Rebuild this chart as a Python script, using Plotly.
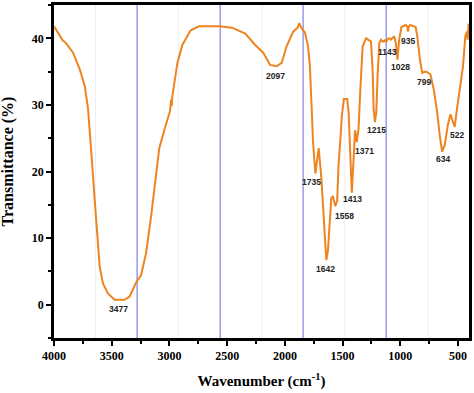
import plotly.graph_objects as go

# Spectrum (wavenumber cm^-1, transmittance %)
wavenumber = [4000, 3925, 3897, 3834, 3776, 3733, 3705, 3685, 3667, 3647, 3627, 3604,
              3576, 3533, 3475, 3389, 3346, 3284, 3246, 3203, 3160, 3123, 3088, 3040,
              2996, 2985, 2980, 2975, 2960, 2931, 2888, 2816, 2745, 2572, 2458, 2343,
              2257, 2186, 2128, 2071, 2028, 1985, 1928, 1890, 1875, 1865, 1842, 1827,
              1799, 1784, 1770, 1756, 1736, 1707, 1684, 1661, 1641, 1627, 1612, 1598,
              1584, 1564, 1547, 1535, 1517, 1506, 1489, 1460, 1448, 1437, 1420, 1406,
              1392, 1377, 1362, 1345, 1326, 1297, 1254, 1240, 1231, 1220, 1208, 1197,
              1182, 1168, 1150, 1134, 1125, 1110, 1096, 1082, 1065, 1053, 1039, 1025,
              1010, 990, 953, 940, 933, 925, 916, 867, 853, 830, 810, 790, 767, 739,
              710, 681, 658, 638, 615, 589, 566, 543, 529, 509, 486, 457, 437, 423,
              417, 408]
transmittance = [41.8, 39.7, 39.3, 37.8, 35.3, 32.8, 29.4, 25.4, 20.5, 15.6, 10.6, 5.7,
                 3.2, 1.7, 0.74, 0.74, 1.2, 3.5, 4.4, 7.7, 13.1, 18.5, 23.5, 26.5,
                 29.0, 30.8, 29.8, 31.3, 32.8, 36.3, 39.0, 41.2, 41.8, 41.8, 41.6, 40.7,
                 39.0, 37.8, 36.0, 35.8, 36.3, 38.8, 41.0, 41.6, 42.3, 41.8, 41.2, 40.9,
                 38.8, 36.0, 30.4, 24.4, 19.7, 23.5, 19.0, 13.1, 6.7, 8.1, 11.6, 16.0,
                 16.3, 14.8, 15.6, 21.0, 25.4, 28.4, 30.9, 30.9, 28.9, 24.4, 16.8, 21.5,
                 26.2, 24.4, 26.4, 32.8, 38.8, 40.0, 39.5, 35.3, 29.4, 27.4, 28.9, 34.3,
                 39.3, 39.8, 39.5, 39.7, 39.4, 39.9, 40.0, 39.8, 40.2, 40.3, 39.3, 36.8,
                 39.8, 41.7, 42.0, 41.8, 41.0, 41.8, 42.0, 41.7, 40.3, 36.8, 34.8, 35.0, 34.9, 34.6,
                 32.3, 28.9, 25.4, 23.0, 24.0, 26.9, 28.6, 27.4, 26.7, 29.4, 32.1, 35.8, 40.3, 41.0,
                 39.8, 42.2]

# Peak labels (text, label position)
peak_text = ["3477", "2097", "1735", "1642", "1558", "1413", "1371", "1215",
             "1143", "1028", "935", "799", "634", "522"]
peak_label_x = [3438, 2085, 1770, 1650, 1483, 1412, 1306, 1203,
                1111, 1001, 933, 795, 629, 509]
peak_label_y = [-0.6, 34.4, 18.4, 5.3, 13.3, 15.8, 23.1, 26.2,
                37.9, 35.7, 39.6, 33.4, 21.9, 25.5]

# Reference lines
blue_lines = [3280, 2560, 1842, 1122]
faint_lines = [3640, 2920, 2200, 1480, 760]

fig = go.Figure()
fig.add_trace(go.Scatter(x=wavenumber, y=transmittance, mode="lines",
                         line=dict(color="#EE8420", width=2), showlegend=False))

shapes = []
for v in faint_lines:
    shapes.append(dict(type="line", xref="x", yref="paper", x0=v, x1=v, y0=0, y1=1,
                       line=dict(color="#EBEFF3", width=1), layer="below"))
for v in blue_lines:
    shapes.append(dict(type="line", xref="x", yref="paper", x0=v, x1=v, y0=0, y1=1,
                       line=dict(color="#9A9AE8", width=1.5), layer="below"))

annotations = []
for t, x, y in zip(peak_text, peak_label_x, peak_label_y):
    annotations.append(dict(x=x, y=y, text=t, showarrow=False,
                            font=dict(family="Liberation Sans", size=8.5, color="#222222", weight="bold")))
annotations.append(dict(x=0, y=0.53, xref="paper", yref="paper", text="Transmittance (%)",
                        textangle=-90, showarrow=False, xanchor="center", yanchor="middle",
                        xshift=-46,
                        font=dict(family="Liberation Serif", size=16, color="black", weight="bold")))

fig.update_layout(
    width=474, height=393,
    margin=dict(l=54, r=2, t=2, b=55),
    plot_bgcolor="white", paper_bgcolor="white",
    shapes=shapes, annotations=annotations,
    xaxis=dict(range=[4000, 405], dtick=500, tick0=500, ticks="outside", ticklen=5,
               tickwidth=1.5, tickcolor="black",
               minor=dict(dtick=250, tick0=250, ticks="outside", ticklen=3, tickwidth=1.5, tickcolor="black"),
               showgrid=False, zeroline=False, showline=True, linecolor="black", linewidth=2.5,
               mirror=True,
               tickfont=dict(family="Liberation Serif", size=12, color="black", weight="bold"),
               title=dict(text="Wavenumber (cm<sup>-1</sup>)", standoff=14,
                          font=dict(family="Liberation Serif", size=15, color="black", weight="bold"))),
    yaxis=dict(range=[-5, 45], dtick=10, tick0=0, ticks="outside", ticklen=5,
               tickwidth=1.5, tickcolor="black",
               minor=dict(dtick=5, tick0=5, ticks="outside", ticklen=3, tickwidth=1.5, tickcolor="black"),
               showgrid=False, zeroline=False, showline=True, linecolor="black", linewidth=2.5,
               mirror=True,
               tickfont=dict(family="Liberation Serif", size=12, color="black", weight="bold")),
)

fig.write_html("out.html", config={"displayModeBar": False},
               post_script="document.body.style.margin='0';")
